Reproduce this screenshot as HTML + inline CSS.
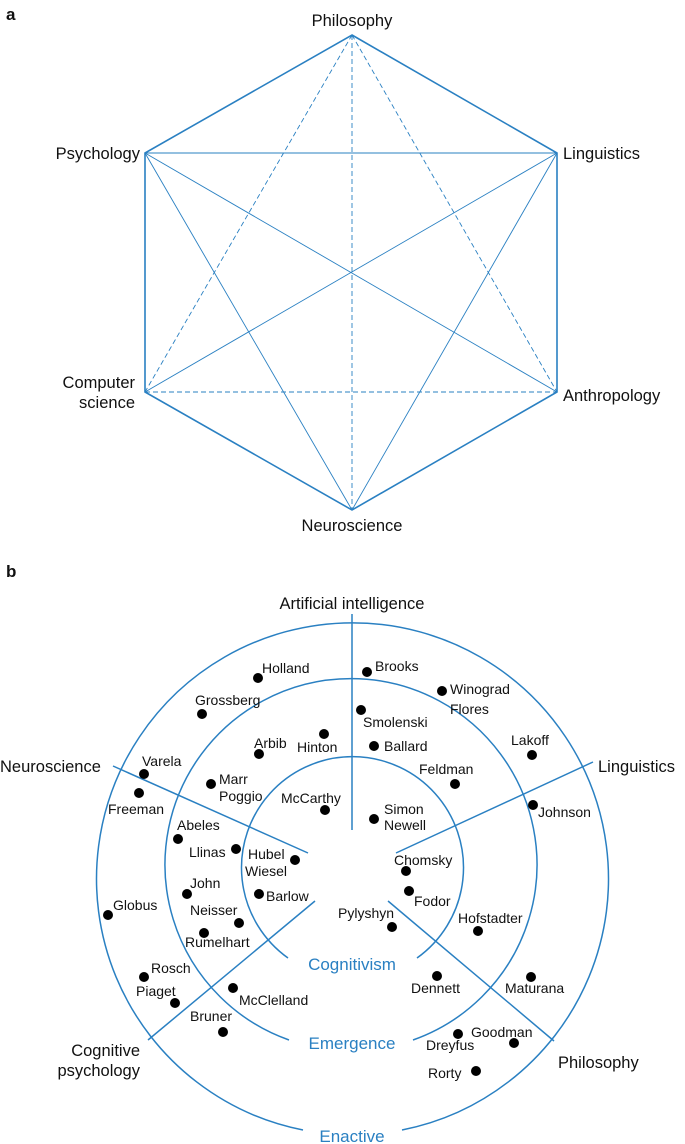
<!DOCTYPE html>
<html><head><meta charset="utf-8"><style>
html,body{margin:0;padding:0;background:#fff}
svg{display:block}
text{font-family:"Liberation Sans",Arial,sans-serif;fill:#111}
.n{font-size:14px}
.L{font-size:16.5px}
.b{fill:#2a80c2;font-size:17px}
</style></head><body>
<svg width="685" height="1144" viewBox="0 0 685 1144" xmlns="http://www.w3.org/2000/svg">
<text x="6" y="20" style="font-size:17px;font-weight:bold">a</text>
<text x="6" y="577" style="font-size:17px;font-weight:bold">b</text>
<g stroke="#2a80c2" fill="none">
<polygon points="352,35 557,153 557,392 352,510 145,392 145,153" stroke-width="1.6"/>
<g stroke-width="0.9">
<line x1="145" y1="153" x2="557" y2="153"/>
<line x1="145" y1="153" x2="557" y2="392"/>
<line x1="145" y1="153" x2="352" y2="510"/>
<line x1="557" y1="153" x2="145" y2="392"/>
<line x1="557" y1="153" x2="352" y2="510"/>
</g>
<g stroke-width="0.9" stroke-dasharray="5,3">
<line x1="352" y1="35" x2="145" y2="392"/>
<line x1="352" y1="35" x2="557" y2="392"/>
<line x1="352" y1="35" x2="352" y2="510"/>
<line x1="145" y1="392" x2="557" y2="392"/>
</g>
</g>
<text class="L" x="352" y="26" text-anchor="middle">Philosophy</text>
<text class="L" x="140" y="159" text-anchor="end">Psychology</text>
<text class="L" x="563" y="159">Linguistics</text>
<text class="L" x="135" y="388" text-anchor="end">Computer</text>
<text class="L" x="135" y="408" text-anchor="end">science</text>
<text class="L" x="563" y="401">Anthropology</text>
<text class="L" x="352" y="531" text-anchor="middle">Neuroscience</text>

<g stroke="#2a80c2" fill="none" stroke-width="1.5">
<!-- outer circle r256 center 352,879 gap at bottom x 303..402 -->
<path d="M303,1130 A256,256 0 1 1 402,1130"/>
<path d="M289,1040 A186,186 0 1 1 413,1040"/>
<path d="M288,958 A111,111 0 1 1 417,958"/>
<line x1="352" y1="614" x2="352" y2="830"/>
<line x1="113" y1="766" x2="308" y2="853"/>
<line x1="593" y1="762" x2="396" y2="853"/>
<line x1="148" y1="1040" x2="315" y2="901"/>
<line x1="388" y1="901" x2="554" y2="1041"/>
</g>
<text class="L" x="352" y="609" text-anchor="middle">Artificial intelligence</text>
<text class="L" x="0" y="772">Neuroscience</text>
<text class="L" x="598" y="772">Linguistics</text>
<text class="L" x="140" y="1056" text-anchor="end">Cognitive</text>
<text class="L" x="140" y="1076" text-anchor="end">psychology</text>
<text class="L" x="558" y="1068">Philosophy</text>
<text class="b" x="352" y="970" text-anchor="middle">Cognitivism</text>
<text class="b" x="352" y="1049" text-anchor="middle">Emergence</text>
<text class="b" x="352" y="1142" text-anchor="middle">Enactive</text>

<g fill="#000">
<circle cx="258" cy="678" r="5"/><circle cx="367" cy="672" r="5"/><circle cx="442" cy="691" r="5"/>
<circle cx="202" cy="714" r="5"/><circle cx="361" cy="710" r="5"/><circle cx="324" cy="734" r="5"/>
<circle cx="259" cy="754" r="5"/><circle cx="374" cy="746" r="5"/><circle cx="532" cy="755" r="5"/>
<circle cx="455" cy="784" r="5"/><circle cx="144" cy="774" r="5"/><circle cx="139" cy="793" r="5"/>
<circle cx="211" cy="784" r="5"/><circle cx="325" cy="810" r="5"/><circle cx="374" cy="819" r="5"/>
<circle cx="533" cy="805" r="5"/><circle cx="178" cy="839" r="5"/><circle cx="236" cy="849" r="5"/>
<circle cx="295" cy="860" r="5"/><circle cx="406" cy="871" r="5"/><circle cx="187" cy="894" r="5"/>
<circle cx="259" cy="894" r="5"/><circle cx="409" cy="891" r="5"/><circle cx="108" cy="915" r="5"/>
<circle cx="239" cy="923" r="5"/><circle cx="392" cy="927" r="5"/><circle cx="478" cy="931" r="5"/>
<circle cx="204" cy="933" r="5"/><circle cx="144" cy="977" r="5"/><circle cx="437" cy="976" r="5"/>
<circle cx="531" cy="977" r="5"/><circle cx="175" cy="1003" r="5"/><circle cx="233" cy="988" r="5"/>
<circle cx="223" cy="1032" r="5"/><circle cx="514" cy="1043" r="5"/><circle cx="458" cy="1034" r="5"/>
<circle cx="476" cy="1071" r="5"/>
</g>
<g class="n">
<text class="n" x="262" y="673">Holland</text>
<text class="n" x="375" y="671">Brooks</text>
<text class="n" x="450" y="694">Winograd</text>
<text class="n" x="450" y="714">Flores</text>
<text class="n" x="195" y="705">Grossberg</text>
<text class="n" x="363" y="727">Smolenski</text>
<text class="n" x="297" y="752">Hinton</text>
<text class="n" x="254" y="748">Arbib</text>
<text class="n" x="384" y="751">Ballard</text>
<text class="n" x="511" y="745">Lakoff</text>
<text class="n" x="419" y="774">Feldman</text>
<text class="n" x="142" y="766">Varela</text>
<text class="n" x="108" y="814">Freeman</text>
<text class="n" x="219" y="784">Marr</text>
<text class="n" x="219" y="801">Poggio</text>
<text class="n" x="281" y="803">McCarthy</text>
<text class="n" x="384" y="814">Simon</text>
<text class="n" x="384" y="830">Newell</text>
<text class="n" x="538" y="817">Johnson</text>
<text class="n" x="177" y="830">Abeles</text>
<text class="n" x="189" y="857">Llinas</text>
<text class="n" x="248" y="859">Hubel</text>
<text class="n" x="245" y="876">Wiesel</text>
<text class="n" x="394" y="865">Chomsky</text>
<text class="n" x="190" y="888">John</text>
<text class="n" x="266" y="901">Barlow</text>
<text class="n" x="414" y="906">Fodor</text>
<text class="n" x="113" y="910">Globus</text>
<text class="n" x="190" y="915">Neisser</text>
<text class="n" x="338" y="918">Pylyshyn</text>
<text class="n" x="458" y="923">Hofstadter</text>
<text class="n" x="185" y="947">Rumelhart</text>
<text class="n" x="151" y="973">Rosch</text>
<text class="n" x="411" y="993">Dennett</text>
<text class="n" x="505" y="993">Maturana</text>
<text class="n" x="136" y="996">Piaget</text>
<text class="n" x="239" y="1005">McClelland</text>
<text class="n" x="190" y="1021">Bruner</text>
<text class="n" x="471" y="1037">Goodman</text>
<text class="n" x="426" y="1050">Dreyfus</text>
<text class="n" x="428" y="1078">Rorty</text>
</g>
</svg>
</body></html>
